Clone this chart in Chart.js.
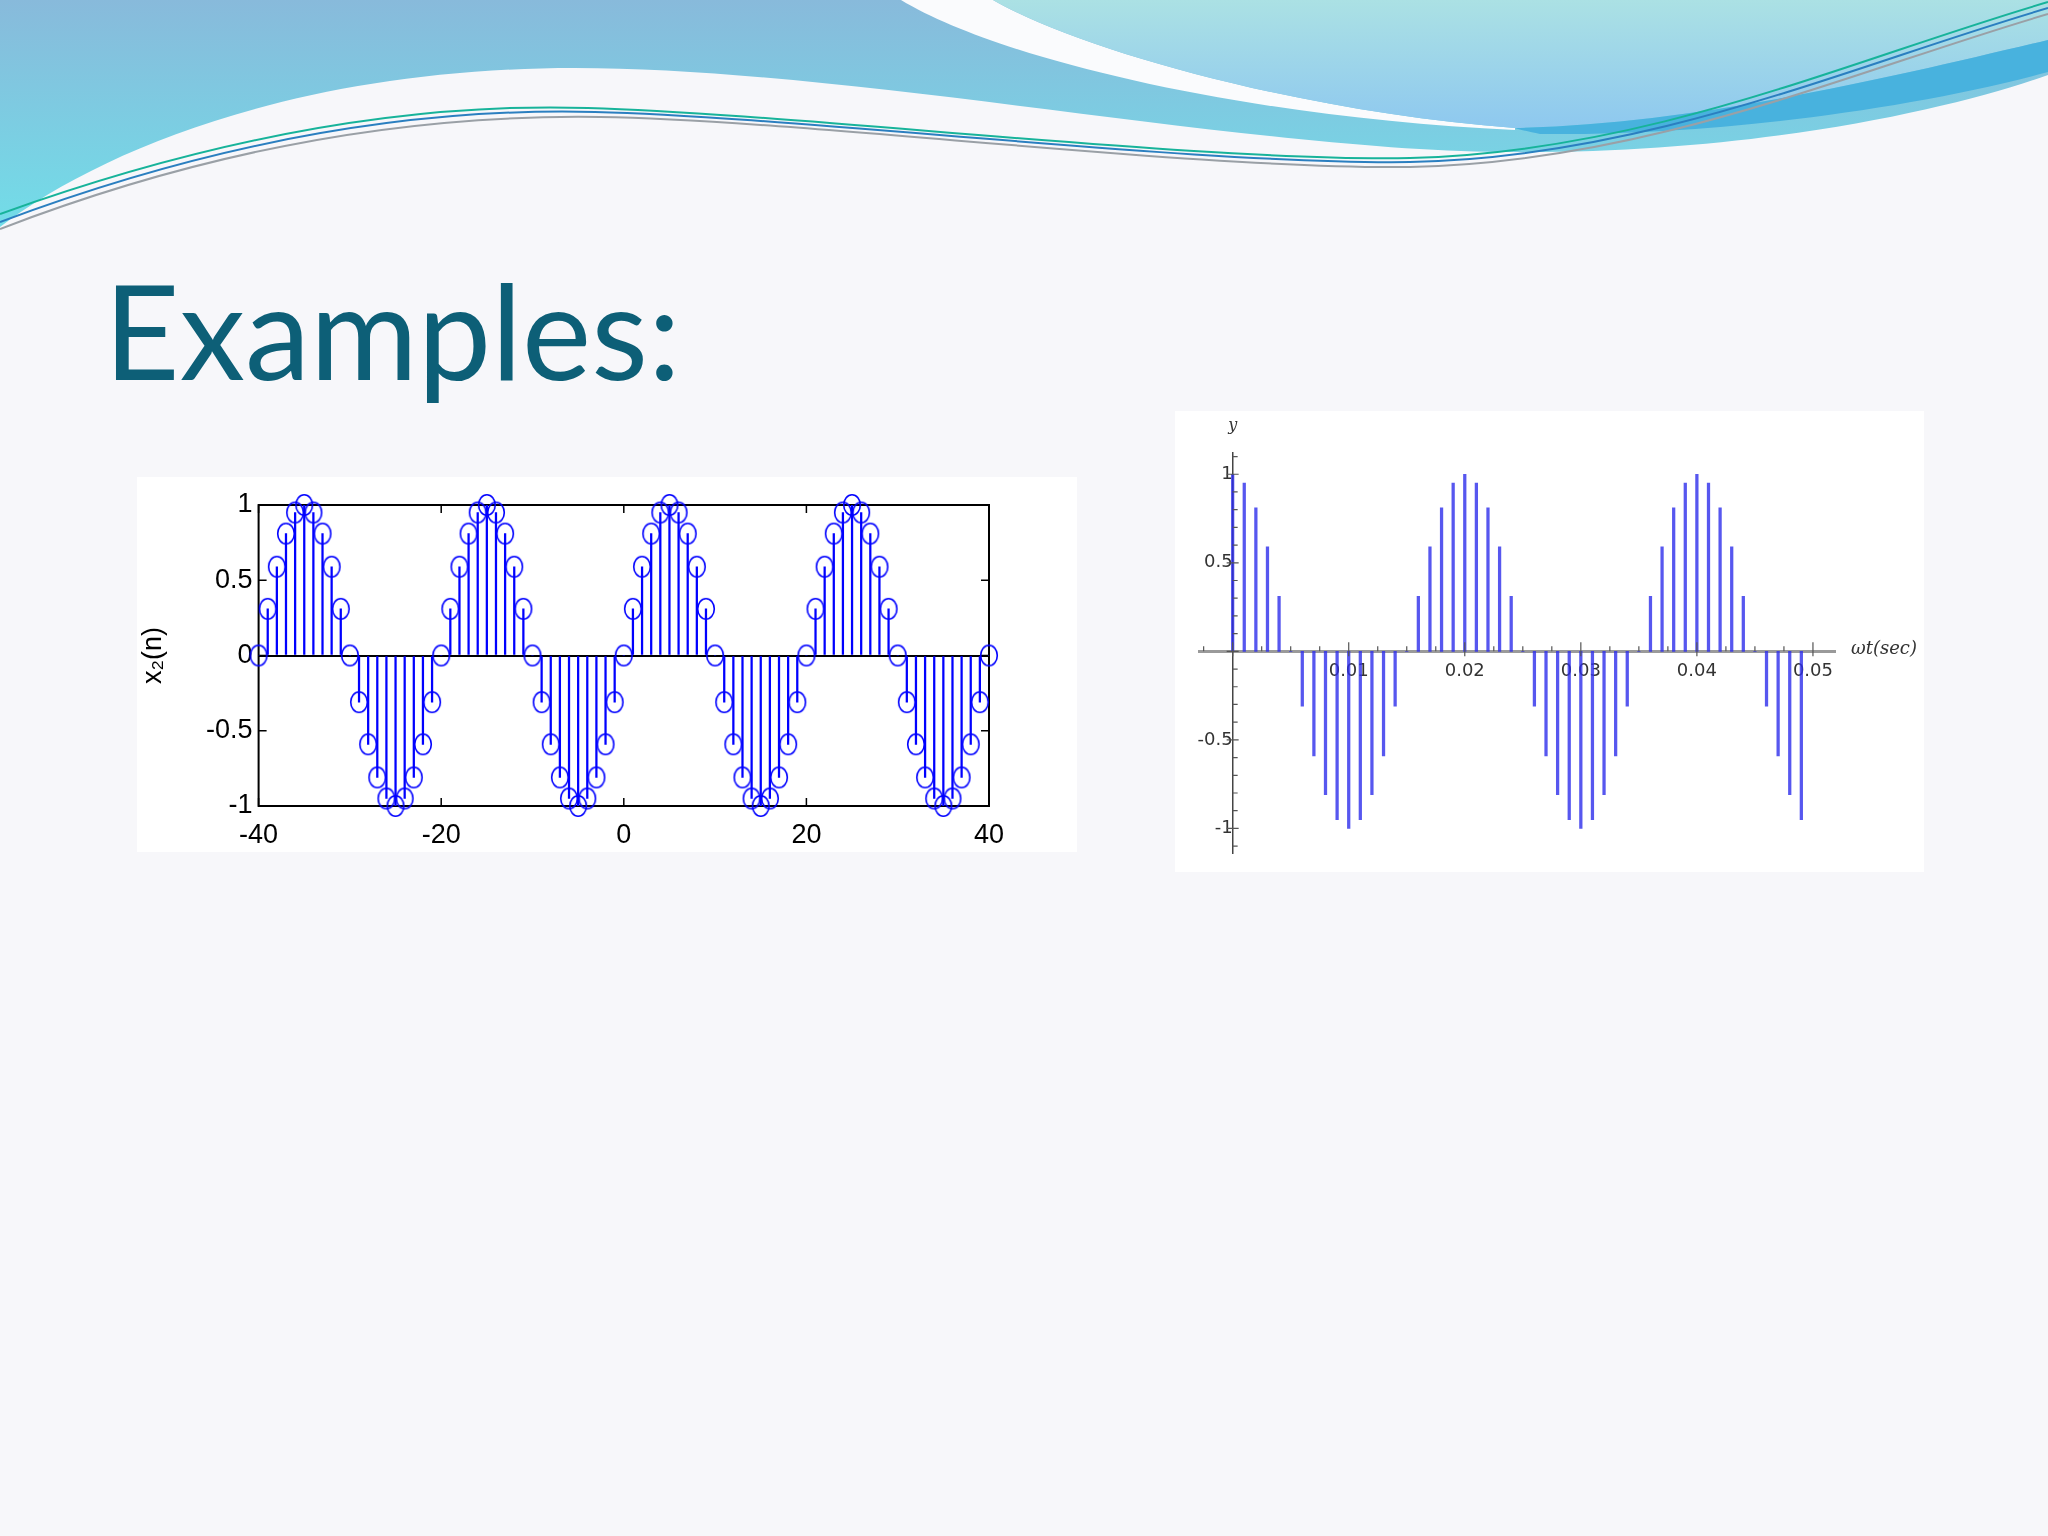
<!DOCTYPE html>
<html>
<head>
<meta charset="utf-8">
<script src="https://cdn.jsdelivr.net/npm/chart.js@4.4.1/dist/chart.umd.min.js"></script>
<style>
  html, body { margin: 0; padding: 0; }
  body { width: 2048px; height: 1536px; background: #f7f7fa; position: relative; overflow: hidden; }
  #header { position: absolute; left: 0; top: 0; }
  #title { position: absolute; left: 104px; top: 264px; font-family: Lato, "Open Sans", sans-serif;
           font-size: 131px; line-height: 1; color: #0d5f77; }
  .panel { position: absolute; background: #fff; }
  #leftBox { left: 137px; top: 477px; width: 940px; height: 375px; }
  #rightBox { left: 1175px; top: 411px; width: 749px; height: 461px; }
</style>
</head>
<body>
<svg id="header" width="2048" height="240" viewBox="0 0 2048 240">
  <defs>
    <linearGradient id="gMain" x1="0" y1="0" x2="0" y2="1">
      <stop offset="0" stop-color="#88badb"/>
      <stop offset="1" stop-color="#72dde8"/>
    </linearGradient>
    <linearGradient id="gRight" x1="0" y1="0" x2="0" y2="1">
      <stop offset="0" stop-color="#abe1e4"/>
      <stop offset="1" stop-color="#8ec8ef"/>
    </linearGradient>
  </defs>
  <path d="M0,0 H2048 V75 C1950,110 1750,155 1500,152 C1250,150 850,68 575,68 C300,68 100,150 0,227 Z" fill="url(#gMain)"/>
  <path d="M901,0 C1000,60 1250,118 1515,130 L1515,128 C1300,112 1080,50 993,0 Z" fill="#fafbfd"/>
  <path d="M993,0 C1080,50 1300,112 1515,128 C1700,124 1900,75 2048,40 V0 Z" fill="url(#gRight)"/>
  <path d="M1515,128 C1700,124 1900,75 2048,40 V72 C1900,112 1700,136 1540,134 C1530,132 1520,130 1515,128 Z" fill="#48b2de"/>
  <path d="M0,229 C200,152 400,114 600,117 C800,120 1200,170 1410,167 C1650,162 1850,72 2048,14" fill="none" stroke="#9aa0a6" stroke-width="2"/>
  <path d="M0,222 C200,147 400,107 595,112 C800,117 1200,165 1410,162 C1650,157 1850,66 2048,8" fill="none" stroke="#2b7fc0" stroke-width="2"/>
  <path d="M0,214 C200,142 400,102 588,108 C800,114 1200,162 1410,158 C1650,152 1850,60 2048,2" fill="none" stroke="#17b39a" stroke-width="2"/>
</svg>
<div id="title">Examples:</div>
<div class="panel" id="leftBox"><canvas id="leftChart"></canvas></div>
<div class="panel" id="rightBox"><canvas id="rightChart"></canvas></div>
<script>
// left plot: x2(n), n = -40..40
const leftN = [-40, -39, -38, -37, -36, -35, -34, -33, -32, -31, -30, -29, -28, -27, -26, -25, -24, -23, -22, -21,
  -20, -19, -18, -17, -16, -15, -14, -13, -12, -11, -10, -9, -8, -7, -6, -5, -4, -3, -2, -1,
  0, 1, 2, 3, 4, 5, 6, 7, 8, 9, 10, 11, 12, 13, 14, 15, 16, 17, 18, 19,
  20, 21, 22, 23, 24, 25, 26, 27, 28, 29, 30, 31, 32, 33, 34, 35, 36, 37, 38, 39, 40];
const leftX2 = [0, 0.31, 0.59, 0.81, 0.95, 1, 0.95, 0.81, 0.59, 0.31, 0, -0.31, -0.59, -0.81, -0.95, -1, -0.95, -0.81, -0.59, -0.31,
  0, 0.31, 0.59, 0.81, 0.95, 1, 0.95, 0.81, 0.59, 0.31, 0, -0.31, -0.59, -0.81, -0.95, -1, -0.95, -0.81, -0.59, -0.31,
  0, 0.31, 0.59, 0.81, 0.95, 1, 0.95, 0.81, 0.59, 0.31, 0, -0.31, -0.59, -0.81, -0.95, -1, -0.95, -0.81, -0.59, -0.31,
  0, 0.31, 0.59, 0.81, 0.95, 1, 0.95, 0.81, 0.59, 0.31, 0, -0.31, -0.59, -0.81, -0.95, -1, -0.95, -0.81, -0.59, -0.31, 0];
const leftXTicks = [-40, -20, 0, 20, 40];
const leftYTicks = [-1, -0.5, 0, 0.5, 1];

// right plot: y against wt(sec)
const rightT = [0, 0.001, 0.002, 0.003, 0.004, 0.005, 0.006, 0.007, 0.008, 0.009,
  0.010, 0.011, 0.012, 0.013, 0.014, 0.015, 0.016, 0.017, 0.018, 0.019,
  0.020, 0.021, 0.022, 0.023, 0.024, 0.025, 0.026, 0.027, 0.028, 0.029,
  0.030, 0.031, 0.032, 0.033, 0.034, 0.035, 0.036, 0.037, 0.038, 0.039,
  0.040, 0.041, 0.042, 0.043, 0.044, 0.045, 0.046, 0.047, 0.048, 0.049];
const rightY = [1, 0.95, 0.81, 0.59, 0.31, 0, -0.31, -0.59, -0.81, -0.95,
  -1, -0.95, -0.81, -0.59, -0.31, 0, 0.31, 0.59, 0.81, 0.95,
  1, 0.95, 0.81, 0.59, 0.31, 0, -0.31, -0.59, -0.81, -0.95,
  -1, -0.95, -0.81, -0.59, -0.31, 0, 0.31, 0.59, 0.81, 0.95,
  1, 0.95, 0.81, 0.59, 0.31, 0, -0.31, -0.59, -0.81, -0.95];
const rightXTicks = [0.01, 0.02, 0.03, 0.04, 0.05];
const rightYTicks = [-1, -0.5, 0.5, 1];

const pts = (xs, ys) => xs.map((x, i) => ({ x: x, y: ys[i] }));
const setTicks = (vals) => (scale) => { scale.ticks = vals.map(v => ({ value: v })); };

// matlab stem marker (slightly tall ellipse)
const marker = document.createElement('canvas');
marker.width = 22; marker.height = 26;
{
  const c = marker.getContext('2d');
  c.strokeStyle = '#0000ff';
  c.lineWidth = 1.6;
  c.beginPath();
  c.ellipse(11, 13, 8.3, 10.3, 0, 0, Math.PI * 2);
  c.stroke();
}

// box + inward ticks like matlab axes
const matlabBox = {
  id: 'matlabBox',
  beforeDatasetsDraw(chart) {
    const { ctx, chartArea: a, scales: { x, y } } = chart;
    ctx.save();
    ctx.strokeStyle = '#000';
    ctx.lineWidth = 2;
    ctx.strokeRect(a.left, a.top, a.right - a.left, a.bottom - a.top);
    ctx.lineWidth = 1.5;
    ctx.beginPath();
    leftXTicks.forEach(v => {
      const px = x.getPixelForValue(v);
      ctx.moveTo(px, a.bottom); ctx.lineTo(px, a.bottom - 8);
      ctx.moveTo(px, a.top); ctx.lineTo(px, a.top + 8);
    });
    leftYTicks.forEach(v => {
      const py = y.getPixelForValue(v);
      ctx.moveTo(a.left, py); ctx.lineTo(a.left + 8, py);
      ctx.moveTo(a.right, py); ctx.lineTo(a.right - 8, py);
    });
    ctx.stroke();
    ctx.restore();
  }
};

new Chart(document.getElementById('leftChart'), {
  type: 'bar',
  data: {
    datasets: [
      {
        type: 'scatter',
        data: pts(leftN, leftX2),
        pointStyle: marker,
        pointRadius: 8,
        clip: false,
        order: 0
      },
      {
        data: pts(leftN, leftX2),
        backgroundColor: '#0000ff',
        barThickness: 1.6,
        order: 1
      }
    ]
  },
  options: {
    responsive: true,
    maintainAspectRatio: false,
    animation: false,
    layout: { padding: { top: 28, right: 88, left: 0, bottom: 0 } },
    plugins: { legend: { display: false }, tooltip: { enabled: false } },
    scales: {
      x: {
        type: 'linear', min: -40, max: 40, offset: false,
        afterBuildTicks: setTicks(leftXTicks),
        afterFit: (s) => { s.height = 46; },
        grid: { display: false, offset: false },
        border: { display: false },
        ticks: { color: '#000', padding: 5, font: { family: 'Liberation Sans', size: 27 },
                 callback: (v) => String(v) }
      },
      y: {
        min: -1, max: 1,
        afterBuildTicks: setTicks(leftYTicks),
        afterFit: (s) => { s.width = 121.6; },
        grid: {
          drawTicks: false,
          color: (c) => c.tick && c.tick.value === 0 ? '#000' : 'rgba(0,0,0,0)',
          lineWidth: 2
        },
        border: { display: false },
        ticks: { color: '#000', padding: 6, font: { family: 'Liberation Sans', size: 27 },
                 callback: (v) => String(v) },
        title: {
          display: true, text: 'x₂(n)', color: '#000',
          padding: { top: 0, bottom: 0 },
          font: { family: 'Liberation Sans, DejaVu Sans', size: 27 }
        }
      }
    }
  },
  plugins: [matlabBox]
});

// sage-style axes decorations: minor ticks and axis labels
const sageAxes = {
  id: 'sageAxes',
  afterDraw(chart) {
    const { ctx, scales: { x, y } } = chart;
    const x0 = x.getPixelForValue(0), y0 = y.getPixelForValue(0);
    ctx.save();
    ctx.strokeStyle = '#555';
    ctx.lineWidth = 1.2;
    ctx.beginPath();
    for (let k = -1; k <= 20; k++) {
      const px = x.getPixelForValue(k * 0.0025);
      const major = k % 4 === 0;
      ctx.moveTo(px, y0 - (major ? 9 : 5));
      ctx.lineTo(px, y0 + (major ? 5 : 0));
    }
    for (let k = -11; k <= 11; k++) {
      const py = y.getPixelForValue(k * 0.1);
      const major = k % 5 === 0;
      ctx.moveTo(x0 - (major ? 6 : 0), py);
      ctx.lineTo(x0 + (major ? 6 : 5), py);
    }
    ctx.stroke();
    ctx.fillStyle = '#333';
    ctx.font = 'italic 16px "DejaVu Serif", "Liberation Serif", serif';
    ctx.textAlign = 'center';
    ctx.textBaseline = 'middle';
    ctx.fillText('y', x0, y.top - 27);
    ctx.font = 'italic 18px "DejaVu Serif", "Liberation Serif", serif';
    ctx.textAlign = 'left';
    ctx.fillText('ωt(sec)', x.right + 16, y0 - 2);
    ctx.restore();
  }
};

new Chart(document.getElementById('rightChart'), {
  type: 'bar',
  data: {
    datasets: [{
      data: pts(rightT, rightY),
      backgroundColor: 'rgba(45,45,235,0.8)',
      barThickness: 2.6
    }]
  },
  options: {
    responsive: true,
    maintainAspectRatio: false,
    animation: false,
    layout: { padding: { top: 42, right: 89, left: 24, bottom: 10 } },
    plugins: { legend: { display: false }, tooltip: { enabled: false } },
    scales: {
      x: {
        type: 'linear', min: -0.0029, max: 0.0519, offset: false,
        position: { y: 0 },
        afterBuildTicks: setTicks(rightXTicks),
        grid: { display: true, drawOnChartArea: false, drawTicks: false, offset: false },
        border: { display: true, color: '#9a9a9a', width: 3 },
        ticks: { color: '#333', padding: 9, font: { family: 'DejaVu Sans', size: 18 },
                 callback: (v) => String(Number(v.toFixed(3))) }
      },
      y: {
        min: -1.14, max: 1.12,
        position: { x: 0 },
        afterBuildTicks: setTicks(rightYTicks),
        grid: { display: true, drawOnChartArea: false, drawTicks: false },
        border: { display: true, color: '#444', width: 1.5 },
        ticks: { color: '#333', padding: 8, font: { family: 'DejaVu Sans', size: 18 } }
      }
    }
  },
  plugins: [sageAxes]
});
</script>
</body>
</html>
